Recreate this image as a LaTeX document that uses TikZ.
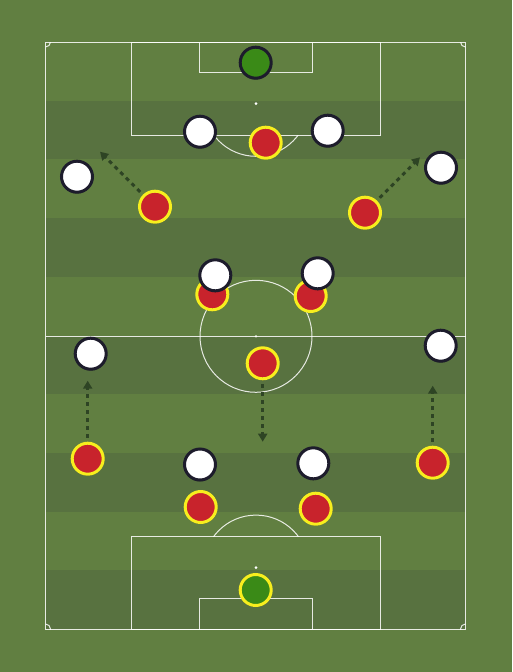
\documentclass[tikz,border=0pt]{standalone}
\usetikzlibrary{arrows.meta,shadows}
\definecolor{grassL}{HTML}{617F41}
\definecolor{grassD}{HTML}{587240}
\definecolor{navy}{HTML}{1D1C2C}
\definecolor{redP}{HTML}{C8232C}
\definecolor{yelP}{HTML}{F7EE1E}
\definecolor{gkG}{HTML}{3A8A17}
\definecolor{arrowC}{HTML}{2E4424}
\tikzset{
  pitchline/.style={draw=white, draw opacity=0.85, line width=1pt},
  player/.style={circle, minimum size=31pt, inner sep=0pt, line width=3pt,
    drop shadow={shadow xshift=0pt, shadow yshift=-1.5pt, opacity=0.3, fill=black}},
  whitep/.style={player, fill=white, draw=navy},
  redp/.style={player, fill=redP, draw=yelP},
  gkw/.style={player, fill=gkG, draw=navy},
  gkr/.style={player, fill=gkG, draw=yelP},
  mv/.style={draw=arrowC, line width=3pt, dash pattern=on 4pt off 4pt,
    shorten <=4pt, -{Triangle[length=8pt,width=9pt]}},
}
\begin{document}
\begin{tikzpicture}[x=1pt,y=-1pt]
\fill[grassL] (0,0) rectangle (512,672);
\useasboundingbox (0,0) rectangle (512,672);
% stripes
\foreach \k in {1,3,5,7,9}{
  \fill[grassD] (45.5,{42+\k*58.7}) rectangle (465.5,{42+(\k+1)*58.7});
}
% pitch markings
\draw[pitchline] (45.5,42) rectangle (465.5,629);
\draw[pitchline] (45.5,336.3) -- (465.5,336.3);
\draw[pitchline] (256,336.3) circle[radius=56];
\fill[white] (256,336.3) circle[radius=1.3];
% top
\draw[pitchline] (131.3,42) rectangle (380.7,135.3);
\draw[pitchline] (199.3,42) rectangle (312.3,72.7);
\fill[white] (256,103.7) circle[radius=1.5];
\begin{scope}
  \clip (131.3,135.3) rectangle (380.7,200);
  \draw[pitchline] (256,103.7) circle[radius=52.6];
\end{scope}
% bottom
\draw[pitchline] (131.3,536) rectangle (380.7,629);
\draw[pitchline] (199.3,598.3) rectangle (312.3,629);
\fill[white] (256,567.7) circle[radius=1.5];
\begin{scope}
  \clip (131.3,536) rectangle (380.7,480);
  \draw[pitchline] (256,567.7) circle[radius=52.6];
\end{scope}
% corner arcs
\begin{scope}
  \clip (45.5,42) rectangle (465.5,629);
  \draw[pitchline] (45.5,42) circle[radius=5];
  \draw[pitchline] (465.5,42) circle[radius=5];
  \draw[pitchline] (45.5,629) circle[radius=5];
  \draw[pitchline] (465.5,629) circle[radius=5];
\end{scope}
% arrow end points
\coordinate (a2) at (100,151.7);
\coordinate (a3) at (420,157.3);
\coordinate (a6) at (262.7,441.7);
\coordinate (a7) at (87.7,380.7);
\coordinate (a8) at (432.7,385.7);
% red team
\node[redp] (r1) at (265.7,142.7) {};
\node[redp] (r2) at (155,206.7) {};
\node[redp] (r3) at (365,212.7) {};
\node[redp] (r4) at (212.3,294.3) {};
\node[redp] (r5) at (310.7,296) {};
\node[redp] (r6) at (262.7,363.3) {};
\node[redp] (r7) at (87.7,458.7) {};
\node[redp] (r8) at (432.7,462.7) {};
\node[redp] (r9) at (200.7,507) {};
\node[redp] (r10) at (315.7,508.7) {};
\node[gkr] (rg) at (255.7,590) {};
% white team
\node[gkw] (wg) at (255.7,62.7) {};
\node[whitep] (w1) at (200,131.7) {};
\node[whitep] (w2) at (327.7,130.7) {};
\node[whitep] (w3) at (77,176.7) {};
\node[whitep] (w4) at (441,167.7) {};
\node[whitep] (w5) at (215.3,275.3) {};
\node[whitep] (w6) at (317.7,273.3) {};
\node[whitep] (w7) at (90.7,353.7) {};
\node[whitep] (w8) at (440.7,345.7) {};
\node[whitep] (w9) at (200,464.5) {};
\node[whitep] (w10) at (313.3,463.3) {};
% movement arrows
\draw[mv] (r2) -- (a2);
\draw[mv] (r3) -- (a3);
\draw[mv] (r6) -- (a6);
\draw[mv] (r7) -- (a7);
\draw[mv] (r8) -- (a8);
\end{tikzpicture}
\end{document}
